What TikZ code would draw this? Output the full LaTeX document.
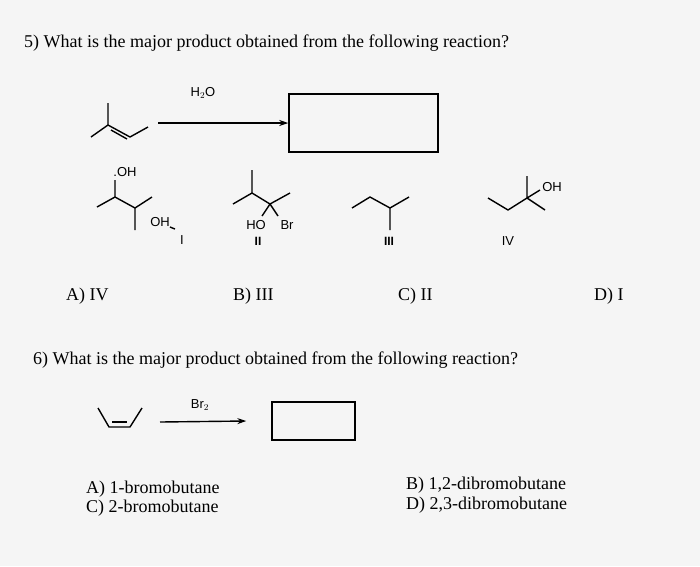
\documentclass[tikz,border=0pt]{standalone}
\usepackage{fontspec}
\setmainfont{Liberation Serif}
\newfontfamily\chemfont{Liberation Sans}
\usetikzlibrary{arrows.meta}
\begin{document}
\begin{tikzpicture}[x=1pt,y=-1pt,
  bond/.style={line width=1.4pt,line join=round},
  lbl/.style={font=\chemfont\fontsize{13}{14}\selectfont,inner sep=0pt},
  txt/.style={font=\fontsize{18}{20}\selectfont,inner sep=0pt,anchor=west},
  rn/.style={font=\chemfont\fontsize{12}{13}\selectfont\bfseries,inner sep=0pt},
  prodbox/.style={draw,line width=1.5pt},
  rarrow/.style={line width=1.4pt,-{Stealth[length=9pt,width=6pt]}}]
\fill[gray!8] (0,0) rectangle (700,566);
\useasboundingbox (0,0) rectangle (700,566);
\node[txt] (q5) at (24,43) {5) What is the major product obtained from the following reaction?};
% reactant
\draw[bond] (91,137)--(108,125)--(108,103) (108,125)--(130,137)--(148,127);
\draw[bond] (111,130)--(127,139);
\node[lbl] (h2o) at (203,93) {H$_2$O};
\coordinate (a1) at (158,123);
\node[prodbox,minimum width=149pt,minimum height=58pt] (box1) at (363.5,123) {};
\draw[rarrow] (a1) -- (box1.west);
% I
\draw[bond] (97,207)--(115,197)--(115,180) (115,197)--(135,208)--(152,197) (135,208)--(135,230);
\node[lbl] (ohA) at (125,172) {.OH};
\node[lbl] (ohB) at (160,222) {OH};
\draw[bond] (170,227)--(175,229);
\node[lbl] (l1) at (182,240) {I};
% II
\draw[bond] (233,204)--(252,193)--(252,170) (252,193)--(270,204)--(290,193) (270,204)--(262,216) (270,204)--(278,216);
\node[lbl] (ho) at (256,225) {HO};
\node[lbl] (br) at (287,225) {Br};
\node[rn] (l2) at (258,241) {II};
% III
\draw[bond] (352,208)--(370,197)--(390,208)--(409,197) (390,208)--(390,230);
\node[rn] (l3) at (389,241) {III};
% IV
\draw[bond] (488,198)--(508,210)--(527,198)--(527,176) (527,198)--(545,210) (527,198)--(540,190);
\node[lbl] (oh4) at (552,187) {OH};
\node[lbl] (l4) at (508,241) {IV};
% answers
\node[txt] (aA) at (66,296) {A) IV};
\node[txt] (aB) at (233,296) {B) III};
\node[txt] (aC) at (398,296) {C) II};
\node[txt] (aD) at (594,296) {D) I};
\node[txt] (q6) at (33,360) {6) What is the major product obtained from the following reaction?};
% butene
\draw[bond] (98,408)--(109,427)--(130,427)--(142,408);
\draw[bond] (112,422)--(127,422);
\node[lbl] (br2) at (200,405) {Br$_2$};
\coordinate (a2) at (160,422);
\node[prodbox,minimum width=83pt,minimum height=38pt] (box2) at (313.5,421) {};
\draw[rarrow] (a2) -- ([xshift=-25pt]box2.west);
\node[txt] (o1) at (86,489) {A) 1-bromobutane};
\node[txt] (o2) at (86,508) {C) 2-bromobutane};
\node[txt] (o3) at (406,485) {B) 1,2-dibromobutane};
\node[txt] (o4) at (406,505) {D) 2,3-dibromobutane};
\end{tikzpicture}
\end{document}
